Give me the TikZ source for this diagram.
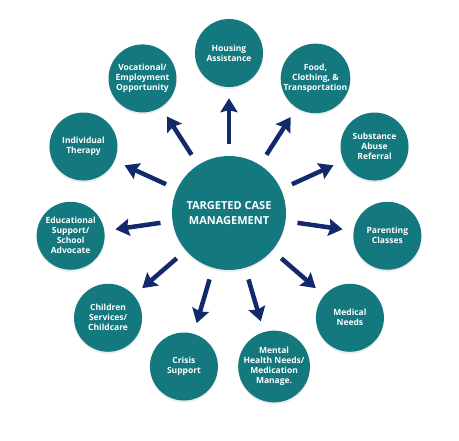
\documentclass[tikz,border=0pt]{standalone}
\usepackage{fontspec}
\setmainfont{Open Sans}
\usetikzlibrary{arrows.meta,calc,shadows}
\definecolor{teal1}{HTML}{14787F}
\definecolor{navy1}{HTML}{12296B}
\tikzset{
  hub/.style={circle,fill=teal1,minimum size=114pt,inner sep=0pt,text=white,
    font=\bfseries\fontsize{11}{15}\selectfont,align=center,
    drop shadow={opacity=0.15,shadow xshift=0pt,shadow yshift=-2pt}},
  leaf/.style={circle,fill=teal1,minimum size=68pt,inner sep=0pt,text=white,
    font=\bfseries\fontsize{8.5}{10}\selectfont,align=center,
    drop shadow={opacity=0.15,shadow xshift=0pt,shadow yshift=-2pt}},
  spoke/.style={draw=navy1,line width=4.5pt,
    -{Stealth[length=14pt,width=17pt,inset=2pt]},
    shorten <=12pt,shorten >=11pt}
}
\begin{document}
\begin{tikzpicture}[x=1pt,y=-1pt]
\useasboundingbox (0,0) rectangle (459,441);
\node[hub] (c) at (229,213) {TARGETED CASE\\MANAGEMENT};
\def\ang{32.7273}
\node[leaf] (n1) at ($(c)+(90:160pt)$) {Housing\\Assistance};
\node[leaf] (n2) at ($(c)+(90-\ang:160pt)$) {Food,\\Clothing, \&\\Transportation};
\node[leaf] (n3) at ($(c)+(90-2*\ang:160pt)$) {Substance\\Abuse\\Referral};
\node[leaf] (n4) at ($(c)+(90-3*\ang:160pt)$) {Parenting\\Classes};
\node[leaf] (n5) at ($(c)+(90-4*\ang:160pt)$) {Medical\\Needs};
\node[leaf] (n6) at ($(c)+(90-5*\ang:160pt)$) {Mental\\Health Needs/\\Medication\\Manage.};
\node[leaf] (n7) at ($(c)+(90-6*\ang:160pt)$) {Crisis\\Support};
\node[leaf] (n8) at ($(c)+(90-7*\ang:160pt)$) {Children\\Services/\\Childcare};
\node[leaf] (n9) at ($(c)+(90-8*\ang:160pt)$) {Educational\\Support/\\School\\Advocate};
\node[leaf] (n10) at ($(c)+(90-9*\ang:160pt)$) {Individual\\Therapy};
\node[leaf] (n11) at ($(c)+(90-10*\ang:160pt)$) {Vocational/\\Employment\\Opportunity};
\foreach \i in {1,...,11}{\draw[spoke] (c) -- (n\i);}
\end{tikzpicture}
\end{document}
